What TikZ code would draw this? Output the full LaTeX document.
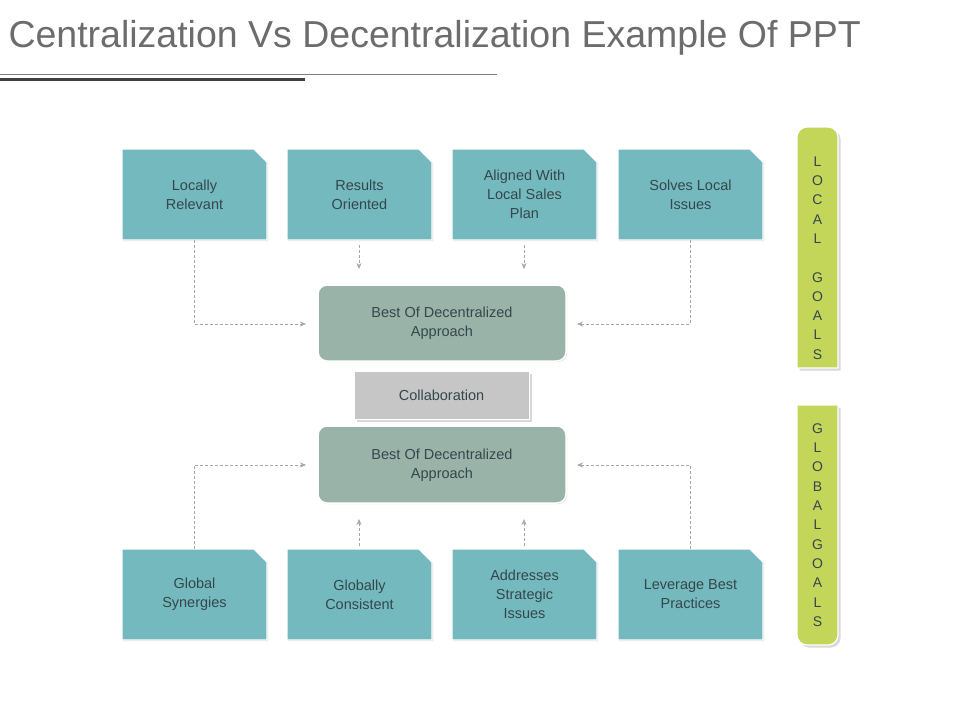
\documentclass[tikz,border=0pt]{standalone}
\usepackage{fontspec}
\setmainfont{Liberation Sans}
\usetikzlibrary{shapes.misc,arrows.meta,shadows}
\definecolor{tealbox}{HTML}{74B9BE}
\definecolor{sagebox}{HTML}{9AB3A8}
\definecolor{limebar}{HTML}{C3D65A}
\definecolor{txt}{HTML}{34474C}
\tikzset{
  card/.style={fill=tealbox,draw=white,line width=1.2pt,drop shadow={opacity=0.3,shadow xshift=1pt,shadow yshift=-1pt}},
  cardtext/.style={text=txt,font=\fontsize{14.5}{19}\selectfont,align=center},
  hub/.style={rounded corners=9pt,fill=sagebox,draw=white,line width=1.5pt,drop shadow={opacity=0.3,shadow xshift=1pt,shadow yshift=-1pt}},
  link/.style={draw=gray!70,densely dashed,line width=0.6pt,-{Stealth[length=6pt,width=5pt]}},
  barletters/.style={text=txt,font=\fontsize{14}{19.3}\selectfont,align=center}
}
\newcommand{\card}[4]{% x, y (top), name, text
  \fill[card] (#1,#2) -- ++(132,0) -- ++(13,13) -- ++(0,78) -- ++(-145,0) -- cycle;
  \node[cardtext] (#3) at ({#1+72.5},{#2+45.5}) {#4};}
\begin{document}
\begin{tikzpicture}[x=1pt,y=-1pt]
\useasboundingbox (0,0) rectangle (960,720);
% title
\node[anchor=west,text=gray!85!black,font=\fontsize{37.5}{40}\selectfont] (title) at (5,38) {Centralization Vs Decentralization Example Of PPT};
\draw[gray,line width=0.8pt] (0,74) -- (497,74);
\draw[black!75,line width=3pt] (0,79) -- (305,79);
% top row
\card{122}{149}{c1}{Locally\\Relevant}
\card{287}{149}{c2}{Results\\Oriented}
\card{452}{149}{c3}{Aligned With\\Local Sales\\Plan}
\card{618}{149}{c4}{Solves Local\\Issues}
% bottom row
\card{122}{549}{d1}{Global\\Synergies}
\card{287}{549}{d2}{Globally\\Consistent}
\card{452}{549}{d3}{Addresses\\Strategic\\Issues}
\card{618}{549}{d4}{Leverage Best\\Practices}
% hubs
\filldraw[hub] (318,285) rectangle (566,361);
\node[cardtext] (h1) at (442,323) {Best Of Decentralized\\Approach};
\filldraw[hub] (318,426) rectangle (566,503);
\node[cardtext] (h2) at (442,465) {Best Of Decentralized\\Approach};
\fill[gray!45,drop shadow={opacity=0.3}] (354,371) rectangle (529,419);
\draw[white,line width=1pt] (354,371) rectangle (529,419);
\node[cardtext] (collab) at (441.5,395) {Collaboration};
% links
\coordinate (a1) at (194,240); \coordinate (a4) at (690,240);
\draw[link] (a1) |- (306,324);
\draw[link] (a4) |- (577,324);
\draw[link] (359,245) -- (359,269);
\draw[link] (524,245) -- (524,269);
\coordinate (b1) at (194,549); \coordinate (b4) at (690,549);
\draw[link] (b1) |- (306,465);
\draw[link] (b4) |- (577,465);
\draw[link] (359,546) -- (359,519);
\draw[link] (524,546) -- (524,519);
% goal bars
\fill[limebar,draw=white,line width=1.2pt,drop shadow={opacity=0.3}] (797,368) -- (797,139) [rounded corners=10pt] -- (797,127) -- (838,127) [sharp corners] -- (838,368) -- cycle;
\node[barletters] (lg) at (817.5,258) {L\\O\\C\\A\\L\\[19.3pt]G\\O\\A\\L\\S};
\fill[limebar,draw=white,line width=1.2pt,drop shadow={opacity=0.3}] (797,405) -- (838,405) [rounded corners=10pt] -- (838,645) -- (797,645) [sharp corners] -- cycle;
\node[barletters] (gg) at (817.5,525) {G\\L\\O\\B\\A\\L\\G\\O\\A\\L\\S};
\end{tikzpicture}
\end{document}
